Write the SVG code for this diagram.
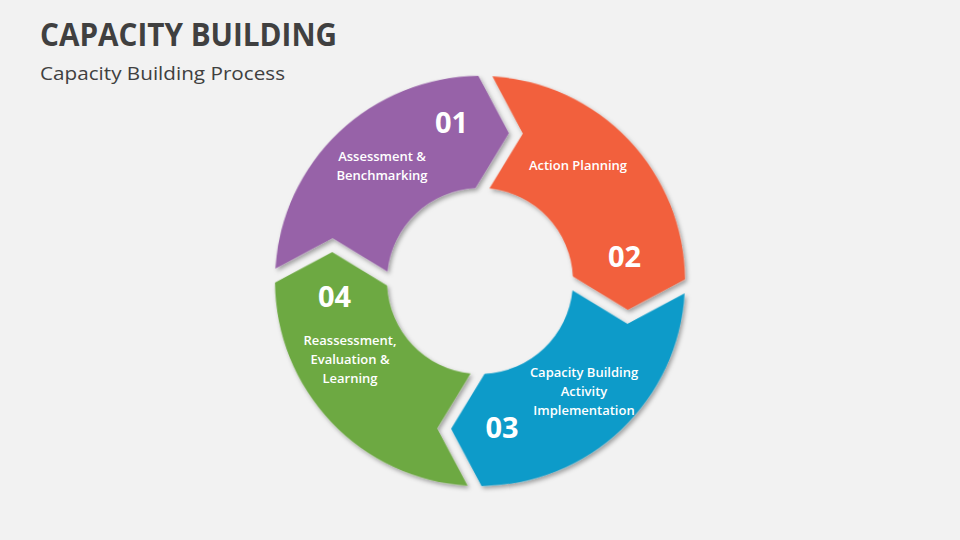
<svg xmlns="http://www.w3.org/2000/svg" width="960" height="540" viewBox="0 0 960 540">
<defs>
<filter id="sh" x="-20%" y="-20%" width="140%" height="140%">
<feDropShadow dx="2" dy="2.5" stdDeviation="2" flood-color="#000" flood-opacity="0.35"/>
</filter>
<style>
.seg{filter:url(#sh);}
.num{font-family:"Open Sans","Liberation Sans",sans-serif;font-weight:700;font-size:29px;fill:#fff;text-anchor:middle;}
.lbl{font-family:"Open Sans","Liberation Sans",sans-serif;font-weight:600;font-size:13px;fill:#fff;text-anchor:middle;}
</style>
</defs>
<rect width="960" height="540" fill="#F2F2F2"/>
<text x="40" y="46" font-family="Open Sans, Liberation Sans, sans-serif" font-weight="700" font-size="32" fill="#404040" textLength="297" lengthAdjust="spacingAndGlyphs">CAPACITY BUILDING</text>
<text x="40" y="80" font-family="Open Sans, Liberation Sans, sans-serif" font-size="19" fill="#404040" textLength="245" lengthAdjust="spacingAndGlyphs">Capacity Building Process</text>
<g id="connectors"></g>
<g id="node1">
<path class="seg" transform="rotate(1.5 480 281)" fill="#9762A8" d="M 275.12 274 A 205 205 0 0 1 473 76.12 L 505 132.5 L 473 188.26 A 93 93 0 0 0 387.26 274 L 331.5 242 Z"/>
<text class="num" x="451.5" y="133">01</text>
<text class="lbl" x="382" y="161">Assessment &amp;</text>
<text class="lbl" x="382" y="180">Benchmarking</text>
</g>
<g id="node2">
<path class="seg" transform="rotate(1.5 480 281)" fill="#F2603E" d="M 487 76.12 A 205 205 0 0 1 684.88 274 L 628.5 306 L 572.74 274 A 93 93 0 0 0 487 188.26 L 519 132.5 Z"/>
<text class="num" x="624.5" y="267">02</text>
<text class="lbl" x="578" y="170">Action Planning</text>
</g>
<g id="node3">
<path class="seg" transform="rotate(1.5 480 281)" fill="#0A9BC9" d="M 684.88 288 A 205 205 0 0 1 487 485.88 L 455 429.5 L 487 373.74 A 93 93 0 0 0 572.74 288 L 628.5 320 Z"/>
<text class="num" x="502" y="438">03</text>
<text class="lbl" x="584" y="377">Capacity Building</text>
<text class="lbl" x="584" y="396">Activity</text>
<text class="lbl" x="584" y="415">Implementation</text>
</g>
<g id="node4">
<path class="seg" transform="rotate(1.5 480 281)" fill="#6DA942" d="M 473 485.88 A 205 205 0 0 1 275.12 288 L 331.5 256 L 387.26 288 A 93 93 0 0 0 473 373.74 L 441 429.5 Z"/>
<text class="num" x="334.5" y="307">04</text>
<text class="lbl" x="350" y="345">Reassessment,</text>
<text class="lbl" x="350" y="364">Evaluation &amp;</text>
<text class="lbl" x="350" y="383">Learning</text>
</g>
</svg>
